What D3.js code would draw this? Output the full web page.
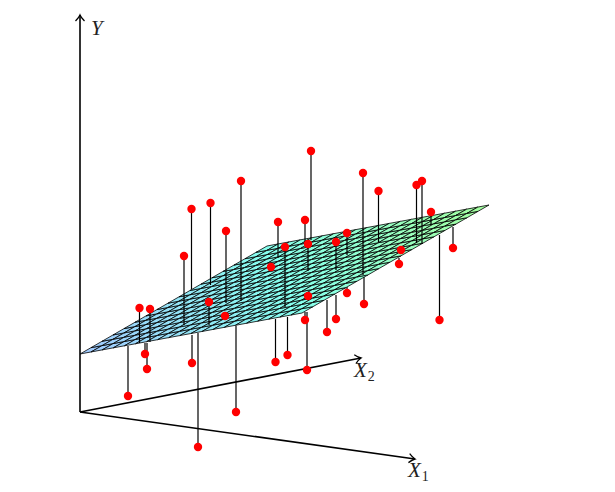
<!DOCTYPE html>
<html><head><meta charset="utf-8">
<script src="https://cdn.jsdelivr.net/npm/d3@7/dist/d3.min.js"></script>
<style>html,body{margin:0;padding:0;background:#fff}svg{display:block}text{font-family:"Liberation Serif",serif;fill:#222}</style>
</head><body><svg id="c" width="615" height="492"></svg>
<script>
// Units: chart units measured from the axes' origin
const planeLeft=[0,58], planeBack=[187,166], planeRight=[409,207], planeFront=[222,99];
const axisY=[0,397], axisX1=[335,-47], axisX2=[281,54];
const labelY=[11,377], labelX1=[328,-65], labelX2=[274,35];
const planeColors=["#a2c8ff","#86ffee","#a4ff9c"];
const meshRows=20, meshCols=17;

const aboveX=[59.5,70,104,111.5,130.5,146,161,129,145,198,225,205,228,191,256,267,231,283,298.5,336.5,342,351,321,228];
const aboveTop=[104,103,156,203,209,181,231,110,96,190,192,165,168,145,170,179,261,239,221,227,231,200,162,116];
const aboveFoot=[69,70,87,123,127,109,111,87,96,154,169,105,141,145,142,157,172,137,170,169,168,187,162,116];

const belowX=[48,65,67,112,118,156,195.5,207.5,227,225,247,256,267,284,319,359.5,373];
const belowDot=[16,58,43,49,-35,0,50,57,42,92,80,93,119,108,148,92,164];
const belowTop=[66,69,69,77,79,86,93,95,100,100,112,117,125,135,154,177,185];

const x=d3.scaleLinear().domain([0,535]).range([80,615]);
const y=d3.scaleLinear().domain([0,412]).range([412,0]);
const svg=d3.select("#c");
const P=p=>[x(p[0]),y(p[1])];
const color=d3.scaleLinear().domain([0,.5,1]).range(planeColors);
const line=d3.line();
const defs=svg.append("defs");
defs.append("marker").attr("id","arr").attr("viewBox","-8 -6 10 12").attr("refX",0).attr("refY",0)
 .attr("markerWidth",10).attr("markerHeight",12).attr("markerUnits","userSpaceOnUse").attr("orient","auto")
 .append("path").attr("d","M-6,-4.5Q-2.5,-1 0,0Q-2.5,1 -6,4.5").attr("fill","none").attr("stroke","#000").attr("stroke-width",1.3);

function axis(end){svg.append("path").attr("d",line([P([0,0]),P(end)])).attr("stroke","#000").attr("stroke-width",1.6).attr("fill","none").attr("marker-end","url(#arr)");}
axis(axisY);axis(axisX1);axis(axisX2);

const seg=(g,xs,a,b)=>g.selectAll("line").data(xs).join("line")
 .attr("x1",d=>x(d)).attr("x2",d=>x(d)).attr("y1",(d,i)=>y(a[i])).attr("y2",(d,i)=>y(b[i]))
 .attr("stroke","#000").attr("stroke-width",1.2);
seg(svg.append("g"),belowX,belowDot,belowTop);

// plane: patch over the corners, u along left-front, v along left-back
const pt=(u,v)=>[
 planeLeft[0]+(planeFront[0]-planeLeft[0])*u+(planeBack[0]-planeLeft[0])*v,
 planeLeft[1]+(planeFront[1]-planeLeft[1])*u+(planeBack[1]-planeLeft[1])*v];
const cells=[];
for(let i=0;i<meshRows;i++)for(let j=0;j<meshCols;j++)cells.push([i,j]);
const gm=svg.append("g");
gm.selectAll("path").data(cells).join("path")
 .attr("d",([i,j])=>{const a=i/meshRows,b=(i+1)/meshRows,c=j/meshCols,e=(j+1)/meshCols;
   return line([P(pt(a,c)),P(pt(b,c)),P(pt(b,e)),P(pt(a,e))])+"Z";})
 .attr("fill",([i,j])=>color(((i+.5)/meshRows+(j+.5)/meshCols)/2))
 .attr("stroke","#000").attr("stroke-width",.8).attr("stroke-linejoin","round");

seg(svg.append("g"),aboveX,aboveTop,aboveFoot);

const dots=(g,xs,ys)=>g.selectAll("circle").data(xs).join("circle")
 .attr("cx",d=>x(d)).attr("cy",(d,i)=>y(ys[i])).attr("r",4.2).attr("fill","#ff0000");
dots(svg.append("g"),belowX,belowDot);
dots(svg.append("g"),aboveX,aboveTop);

function label(pos,t,sub){
 const s=svg.append("text").attr("x",x(pos[0])).attr("y",y(pos[1])).attr("font-size",21);
 s.append("tspan").attr("font-style","italic").text(t);
 if(sub)s.append("tspan").attr("font-size",14).attr("dy",4).attr("dx",1).text(sub);
}
label(labelY,"Y");label(labelX1,"X","1");label(labelX2,"X","2");
</script></body></html>
